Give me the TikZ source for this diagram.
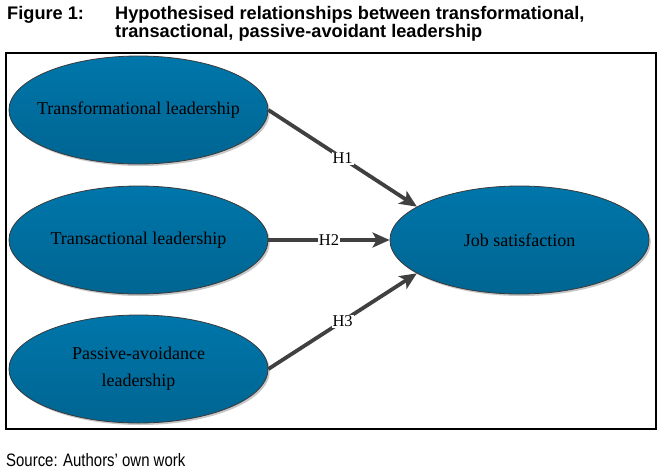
\documentclass[tikz,border=0pt]{standalone}
\usepackage{fontspec}
\setmainfont{Liberation Serif}
\newfontfamily\titlesans{Liberation Sans}
\newfontfamily\narrowsans[FakeStretch=0.83]{Liberation Sans}
\usetikzlibrary{shapes.geometric,arrows.meta,shadows}
\definecolor{elltop}{HTML}{0076AA}
\definecolor{ellbot}{HTML}{006592}
\definecolor{arrgray}{HTML}{404040}
\definecolor{ellborder}{HTML}{3A3A3A}
\tikzset{
  ell/.style={ellipse, minimum width=259pt, minimum height=108pt, inner xsep=-40pt, inner ysep=0pt,
    top color=elltop, bottom color=ellbot, draw=ellborder, line width=0.8pt,
    drop shadow={shadow xshift=1.8pt, shadow yshift=-2pt, fill=black, opacity=0.22},
    font=\fontsize{18}{27}\selectfont, align=center, text=black},
  hyp/.style={draw=arrgray, line width=3.8pt, -{Stealth[length=17pt,width=15pt,inset=4pt]}},
  hlabel/.style={fill=white, inner sep=0.8pt, font=\fontsize{16.5}{18}\selectfont, text=black},
  titletext/.style={anchor=base west, inner sep=0pt, font=\titlesans\bfseries\fontsize{18.2}{20}\selectfont},
}
\begin{document}
\begin{tikzpicture}[x=1pt,y=-1pt]
\useasboundingbox (0,0) rectangle (663,471);
% title
\node[titletext] (fig) at (7,19) {Figure 1:};
\node[titletext] (t1) at (115,19) {Hypothesised relationships between transformational,};
\node[titletext] (t2) at (115,37.5) {transactional, passive-avoidant leadership};
% frame
\draw[line width=1.3pt] (6,53) rectangle (656,429);
% ellipses
\node[ell] (tf) at (138.5,110) {Transformational leadership};
\node[ell] (ta) at (138.5,240) {Transactional leadership};
\node[ell] (pa) at (138.5,369) {Passive-avoidance\\leadership};
\node[ell] (js) at (519.5,240) {Job satisfaction};
% arrows
\draw[hyp] (tf.east) -- node[hlabel] (h1) {H1} (js.162);
\draw[hyp] (ta.east) -- node[hlabel] (h2) {H2} (js.west);
\draw[hyp] (pa.east) -- node[hlabel] (h3) {H3} (js.198);
% source
\node[anchor=base west, inner sep=0pt, font=\narrowsans\fontsize{18}{20}\selectfont] (src) at (6,466) {Source: Authors’ own work};
\end{tikzpicture}
\end{document}
